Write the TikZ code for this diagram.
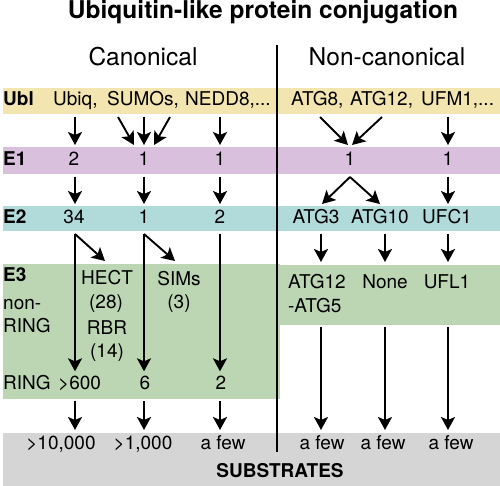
\documentclass[tikz,border=0pt]{standalone}
\usepackage{fontspec}
\setmainfont{TeX Gyre Heros}
\usepackage{tikz}
\usetikzlibrary{arrows.meta}
\definecolor{ublcol}{RGB}{243,229,176}
\definecolor{eonecol}{RGB}{217,193,222}
\definecolor{etwocol}{RGB}{176,219,218}
\definecolor{ethreecol}{RGB}{188,213,179}
\definecolor{subcol}{RGB}{213,213,213}

\begin{document}
\begin{tikzpicture}[
    x=1pt,
    y=-1pt,
    txt/.style={font=\fontsize{19}{22}\selectfont, inner sep=0pt, anchor=base},
    lab/.style={txt, font=\fontsize{19}{22}\selectfont\bfseries, anchor=base west},
    head/.style={txt, font=\fontsize{24.5}{28}\selectfont},
    band/.style={inner sep=0pt, outer sep=2.5pt, anchor=north west},
    arr/.style={line width=1.9pt, -{Stealth[length=13pt, width=14pt, inset=3pt]}}
]
  \useasboundingbox (0,0) rectangle (500,486);

  \node[band, fill=ublcol, minimum width=500pt, minimum height=26pt] (ublband) at (0,86) {};
  \node[band, fill=eonecol, minimum width=500pt, minimum height=27pt] (e1band) at (0,145) {};
  \node[band, fill=etwocol, minimum width=500pt, minimum height=25pt] (e2band) at (0,204) {};
  \node[band, fill=ethreecol, minimum width=277pt, minimum height=135pt] (e3lband) at (0,261) {};
  \node[band, fill=ethreecol, minimum width=223pt, minimum height=60pt] (e3rband) at (277,262) {};
  \node[band, fill=subcol, minimum width=500pt, minimum height=56pt] (subband) at (0,430) {};

  \draw[line width=1.7pt] (277,45) -- (277,452);

  \coordinate (c1) at (75,0);
  \coordinate (c2) at (144,0);
  \coordinate (c3) at (220,0);
  \coordinate (dm) at (350,0);
  \coordinate (d1) at (321,0);
  \coordinate (d2) at (385,0);
  \coordinate (d3) at (448,0);

  \node[head, font=\fontsize{24.5}{28}\selectfont\bfseries] (title) at (263,19) {Ubiquitin-like protein conjugation};
  \node[head] (canon) at (143,66) {Canonical};
  \node[head] (noncanon) at (387,66) {Non-canonical};

  \node[lab] (ubl) at (3,106) {Ubl};
  \node[txt, anchor=base west] (ubiq) at (53,106) {Ubiq,};
  \node[txt, anchor=base west] (sumo) at (107,106) {SUMOs,};
  \node[txt, anchor=base west] (nedd) at (185,106) {NEDD8,...};
  \node[txt, anchor=base west] (atgeight) at (291,106) {ATG8,};
  \node[txt, anchor=base west] (atgtwelve) at (350,106) {ATG12,};
  \node[txt, anchor=base west] (ufm) at (421,106) {UFM1,...};

  \node[lab] (eone) at (3,166) {E1};
  \node[txt] (e1a) at (74,166) {2};
  \node[txt] (e1b) at (144,166) {1};
  \node[txt] (e1c) at (220,166) {1};
  \node[txt] (e1d) at (350,166) {1};
  \node[txt] (e1e) at (448,166) {1};

  \node[lab] (etwo) at (3,223) {E2};
  \node[txt] (e2a) at (74,223) {34};
  \node[txt] (e2b) at (144,223) {1};
  \node[txt] (e2c) at (220,223) {2};
  \node[txt] (atgthree) at (316,223) {ATG3};
  \node[txt] (atgten) at (380,223) {ATG10};
  \node[txt] (ufc) at (447,223) {UFC1};

  \node[lab] (ethree) at (3,281) {E3};
  \node[txt, anchor=base west] (nonring) at (3,309) {non-};
  \node[txt, anchor=base west] (nonringb) at (3,332) {RING};
  \node[txt] (hect) at (107,284) {HECT};
  \node[txt] (hectn) at (106,308) {(28)};
  \node[txt] (rbr) at (107,334) {RBR};
  \node[txt] (rbrn) at (107,357) {(14)};
  \node[txt] (sims) at (179,285) {SIMs};
  \node[txt] (simsn) at (179,308) {(3)};
  \node[txt, anchor=base west] (ring) at (3,389) {RING};
  \node[txt, anchor=base west] (gtsix) at (58,389) {>600};
  \node[txt] (six) at (145,389) {6};
  \node[txt] (two) at (221,389) {2};
  \node[txt, anchor=base west] (atgtwelvefive) at (288,288) {ATG12};
  \node[txt, anchor=base west] (atgfive) at (288,312) {-ATG5};
  \node[txt] (none) at (385,288) {None};
  \node[txt] (ufl) at (447,288) {UFL1};

  \node[txt] (suba) at (61,449) {>10,000};
  \node[txt] (subb) at (143,449) {>1,000};
  \node[txt] (subc) at (223,449) {a few};
  \node[txt] (subd) at (322,449) {a few};
  \node[txt] (sube) at (383,449) {a few};
  \node[txt] (subf) at (451,449) {a few};
  \node[txt, font=\fontsize{19}{22}\selectfont\bfseries] (substrates) at (280,477) {SUBSTRATES};

  \draw[arr] (c1 |- ublband.south) -- (c1 |- e1band.north);
  \draw[arr] ([xshift=-26pt]c2 |- ublband.south) -- ([xshift=-10pt]c2 |- e1band.north);
  \draw[arr] (c2 |- ublband.south) -- (c2 |- e1band.north);
  \draw[arr] ([xshift=26pt]c2 |- ublband.south) -- ([xshift=10pt]c2 |- e1band.north);
  \draw[arr] (c3 |- ublband.south) -- (c3 |- e1band.north);
  \draw[arr] ([xshift=-1pt]d1 |- ublband.south) -- ([xshift=-2pt]dm |- e1band.north);
  \draw[arr] ([xshift=-3pt]d2 |- ublband.south) -- ([xshift=2pt]dm |- e1band.north);
  \draw[arr] (d3 |- ublband.south) -- (d3 |- e1band.north);

  \draw[arr] (c1 |- e1band.south) -- (c1 |- e2band.north);
  \draw[arr] (c2 |- e1band.south) -- (c2 |- e2band.north);
  \draw[arr] (c3 |- e1band.south) -- (c3 |- e2band.north);
  \draw[arr] (dm |- e1band.south) -- ([xshift=1pt]d1 |- e2band.north);
  \draw[arr] (dm |- e1band.south) -- ([xshift=-5pt]d2 |- e2band.north);
  \draw[arr] (d3 |- e1band.south) -- (d3 |- e2band.north);

  \draw[arr] (c1 |- e2band.south) -- ([yshift=4pt]c1 |- gtsix.north);
  \draw[arr] (c1 |- e2band.south) -- ([xshift=-2pt]hect.north |- e3lband.north);
  \draw[arr] (c2 |- e2band.south) -- ([yshift=4pt]c2 |- six.north);
  \draw[arr] (c2 |- e2band.south) -- ([xshift=-4pt]sims.north |- e3lband.north);
  \draw[arr] (c3 |- e2band.south) -- ([yshift=4pt]c3 |- two.north);
  \draw[arr] (d1 |- e2band.south) -- (d1 |- e3rband.north);
  \draw[arr] (d2 |- e2band.south) -- (d2 |- e3rband.north);
  \draw[arr] (d3 |- e2band.south) -- (d3 |- e3rband.north);

  \draw[arr] (c1 |- e3lband.south) -- (c1 |- subband.north);
  \draw[arr] (c2 |- e3lband.south) -- (c2 |- subband.north);
  \draw[arr] (c3 |- e3lband.south) -- (c3 |- subband.north);
  \draw[arr] (d1 |- e3rband.south) -- (d1 |- subband.north);
  \draw[arr] (d2 |- e3rband.south) -- (d2 |- subband.north);
  \draw[arr] (d3 |- e3rband.south) -- (d3 |- subband.north);
\end{tikzpicture}
\end{document}
